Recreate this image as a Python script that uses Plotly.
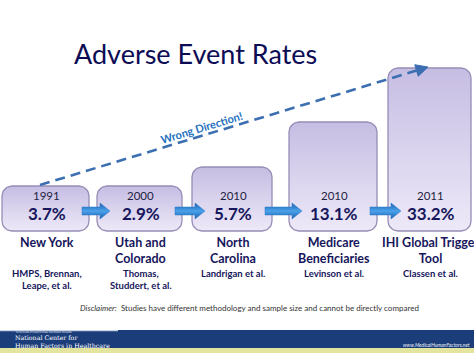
import math
import plotly.graph_objects as go

# ---------------- data ----------------
years = ["1991", "2000", "2010", "2010", "2011"]
rates = [3.7, 2.9, 5.7, 13.1, 33.2]
locations = ["New York", "Utah and<br>Colorado", "North<br>Carolina",
             "Medicare<br>Beneficiaries", "IHI Global Trigger<br>Tool"]
authors = ["HMPS, Brennan,<br>Leape, et al.", "Thomas,<br>Studdert, et al.",
           "Landrigan et al.", "Levinson et al.", "Classen et al."]
title_text = "Adverse Event Rates"
trend_label = "Wrong Direction!"
disclaimer = "<i>Disclaimer:</i>  Studies have different methodology and sample size and cannot be directly compared"

# ---------------- layout geometry (pixel-like canvas) ----------------
W, H = 474, 353
box_left = [2, 97, 192, 289, 388]
box_right = [89, 182, 272, 377, 471]
box_top = [186, 186, 167, 122, 68]
box_bottom = 231
radius = 10

NAVY = "#16165c"
fig = go.Figure()


def rounded_rect(x0, y0, x1, y1, r):
    xs, ys = [], []
    corners = [(x1 - r, y0 + r, -90, 0), (x1 - r, y1 - r, 0, 90),
               (x0 + r, y1 - r, 90, 180), (x0 + r, y0 + r, 180, 270)]
    for cx, cy, a0, a1 in corners:
        for k in range(9):
            a = math.radians(a0 + (a1 - a0) * k / 8)
            xs.append(cx + r * math.cos(a))
            ys.append(cy + r * math.sin(a))
    xs.append(xs[0]); ys.append(ys[0])
    return xs, ys


# boxes
for i in range(len(years)):
    xs, ys = rounded_rect(box_left[i], box_top[i], box_right[i], box_bottom, radius)
    fig.add_trace(go.Scatter(
        x=xs, y=ys, mode="lines", fill="toself",
        line=dict(color="#978db6", width=1.3),
        fillgradient=dict(type="vertical",
                          colorscale=[[0, "#ede9f8"], [1, "#c6bde3"]]),
        hoverinfo="skip", showlegend=False))

# block arrows between boxes
for i in range(len(years) - 1):
    xa = box_right[i] - 7
    xb = box_left[i + 1] + 13
    yc = 211
    head = 10
    xs = [xa, xb - head, xb - head, xb, xb - head, xb - head, xa, xa]
    ys = [yc - 4, yc - 4, yc - 8, yc, yc + 8, yc + 4, yc + 4, yc - 4]
    fig.add_trace(go.Scatter(
        x=xs, y=ys, mode="lines", fill="toself",
        line=dict(color="#2a78c8", width=0.5),
        fillgradient=dict(type="vertical",
                          colorscale=[[0, "#1c5fae"], [0.5, "#4aa2ea"], [1, "#1c5fae"]]),
        hoverinfo="skip", showlegend=False))

# dashed trend arrow
x0, y0, x1, y1 = 40, 185, 428, 67
ang = math.atan2(y1 - y0, x1 - x0)
hl = 12
bx, by = x1 - hl * math.cos(ang), y1 - hl * math.sin(ang)
fig.add_trace(go.Scatter(x=[x0, bx], y=[y0, by], mode="lines",
                         line=dict(color="#3c6fb2", width=2.6, dash="10px,6px"),
                         hoverinfo="skip", showlegend=False))
px, py = -math.sin(ang), math.cos(ang)
fig.add_trace(go.Scatter(
    x=[x1, bx + 6 * px, bx - 6 * px, x1], y=[y1, by + 6 * py, by - 6 * py, y1],
    mode="lines", fill="toself", fillcolor="#3c6fb2",
    line=dict(color="#3c6fb2", width=1), hoverinfo="skip", showlegend=False))

# ---------------- texts ----------------
ann = []
ann.append(dict(x=195, y=53, text=title_text, showarrow=False,
                font=dict(family="Lato", size=27, color="#0c0c55")))
ann.append(dict(x=201, y=127, text="<b>" + trend_label + "</b>", showarrow=False,
                textangle=math.degrees(ang),
                font=dict(family="Lato", size=11, color="#2470bd")))
for i in range(len(years)):
    cx = (box_left[i] + box_right[i]) / 2 + 1
    ann.append(dict(x=cx, y=195, text=years[i], showarrow=False,
                    font=dict(family="Lato", size=11.5, color="#1e1e3e")))
    ann.append(dict(x=cx, y=213, text="<b>%.1f%%</b>" % rates[i], showarrow=False,
                    font=dict(family="Lato", size=17, color=NAVY)))
    ann.append(dict(x=cx, y=233, yanchor="top", text="<b>" + locations[i] + "</b>",
                    showarrow=False,
                    font=dict(family="Lato", size=12.5, color=NAVY)))
    ann.append(dict(x=cx, y=266, yanchor="top", text="<b>" + authors[i] + "</b>",
                    showarrow=False,
                    font=dict(family="Lato", size=9.5, color=NAVY)))
ann.append(dict(x=249, y=308, text=disclaimer, showarrow=False,
                font=dict(family="Lato", size=8, color="#333333")))
# footer texts
ann.append(dict(x=14, y=331.6, xanchor="left", text="NewYork-Presbyterian MedStar Health",
                showarrow=False, font=dict(family="DejaVu Serif", size=2.8, color="#e0e6f0")))
ann.append(dict(x=13, y=341.2, xanchor="left",
                text="National Center for<br>Human Factors in Healthcare",
                showarrow=False, align="left",
                font=dict(family="DejaVu Serif", size=6.3, color="#ffffff")))
ann.append(dict(x=472, y=345, xanchor="right", text="<i>www.MedicalHumanFactors.net</i>",
                showarrow=False, font=dict(family="Lato", size=5, color="#e8eef8")))

shapes = [
    dict(type="rect", xref="x", yref="y", x0=0, x1=W, y0=330, y1=348,
         fillcolor="#1b3d7a", line=dict(width=0), layer="below"),
    dict(type="rect", xref="x", yref="y", x0=0, x1=118, y0=330, y1=331.3,
         fillcolor="#c8d2e6", line=dict(width=0), layer="below"),
    dict(type="rect", xref="x", yref="y", x0=0, x1=W, y0=348, y1=H,
         fillcolor="#e3e59e", line=dict(width=0), layer="below"),
]

fig.update_layout(
    width=W, height=H, margin=dict(l=0, r=0, t=0, b=0),
    paper_bgcolor="white", plot_bgcolor="white",
    xaxis=dict(range=[0, W], visible=False, fixedrange=True),
    yaxis=dict(range=[H, 0], visible=False, fixedrange=True),
    annotations=ann, shapes=shapes, showlegend=False)

fig.write_html("out.html")
